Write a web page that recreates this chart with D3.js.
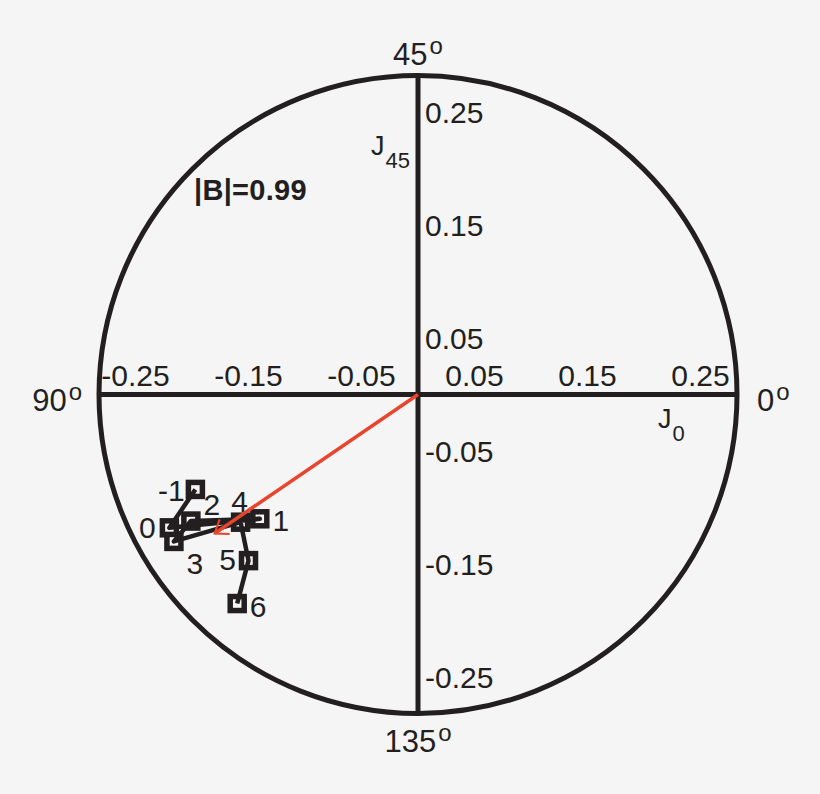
<!DOCTYPE html>
<html>
<head>
<meta charset="utf-8">
<script src="https://cdn.jsdelivr.net/npm/d3@7"></script>
<style>
  html, body { margin: 0; padding: 0; background: #f5f5f5; }
  svg text { font-family: Arial, "Liberation Sans", Helvetica, sans-serif; fill: #231f20; }
</style>
</head>
<body>
<svg id="chart"></svg>
<script>
// polar plot of J0 / J45 components
const pointLabels = ["-1", "0", "1", "2", "3", "4", "5", "6"];
const j0Values = [-0.197, -0.220, -0.140, -0.201, -0.216, -0.157, -0.150, -0.160];
const j45Values = [-0.084, -0.118, -0.110, -0.112, -0.130, -0.113, -0.147, -0.185];
const meanVector = [-0.180, -0.123];
const tickValues = [-0.25, -0.15, -0.05, 0.05, 0.15, 0.25];
const angleLabels = ["0", "45", "90", "135"];
const circleRadius = 0.2823;
const magnitudeText = "|B|=0.99";

const width = 820;
const height = 794;
const center = { x: 418, y: 394.5 };
const radiusPx = 319;
const ink = '#231f20';

const svg = d3.select('svg#chart').attr('width', width).attr('height', height);

var xScale = d3.scaleLinear()
  .domain([-circleRadius, circleRadius])
  .range([center.x - radiusPx, center.x + radiusPx]);
var yScale = d3.scaleLinear()
  .domain([-circleRadius, circleRadius])
  .range([center.y + radiusPx, center.y - radiusPx]);

// outer circle
svg.append('circle')
  .attr('cx', xScale(0))
  .attr('cy', yScale(0))
  .attr('r', xScale(circleRadius) - xScale(0))
  .attr('fill', 'none')
  .attr('stroke', ink)
  .attr('stroke-width', 5);

// the two axes through the full diameter
svg.append('line')
  .attr('x1', xScale(-circleRadius)).attr('x2', xScale(circleRadius))
  .attr('y1', yScale(0)).attr('y2', yScale(0))
  .attr('stroke', ink).attr('stroke-width', 5);
svg.append('line')
  .attr('x1', xScale(0)).attr('x2', xScale(0))
  .attr('y1', yScale(circleRadius)).attr('y2', yScale(-circleRadius))
  .attr('stroke', ink).attr('stroke-width', 5);

// tick labels, no tick marks in the original
svg.append('g').selectAll('text').data(tickValues)
  .enter().append('text')
  .attr('x', d => xScale(d))
  .attr('y', yScale(0) - 9)
  .attr('text-anchor', 'middle')
  .style('font-size', '30px')
  .text(d => d.toFixed(2));

svg.append('g').selectAll('text').data(tickValues)
  .enter().append('text')
  .attr('x', xScale(0) + 7)
  .attr('y', d => yScale(d))
  .attr('dy', '0.36em')
  .style('font-size', '30px')
  .text(d => d.toFixed(2));

// angle labels round the circle
var anglePos = {
  "0":   { x: center.x + radiusPx + 20, y: center.y + 16, anchor: 'start' },
  "45":  { x: center.x, y: center.y - radiusPx - 11, anchor: 'middle' },
  "90":  { x: center.x - radiusPx - 17, y: center.y + 16, anchor: 'end' },
  "135": { x: center.x, y: center.y + radiusPx + 38, anchor: 'middle' }
};
var angleText = svg.append('g').selectAll('text').data(angleLabels)
  .enter().append('text')
  .attr('x', d => anglePos[d].x)
  .attr('y', d => anglePos[d].y)
  .attr('text-anchor', d => anglePos[d].anchor)
  .style('font-size', '31px');
angleText.append('tspan').text(d => d);
angleText.append('tspan')
  .attr('dy', -11)
  .attr('dx', 2)
  .style('font-size', '24px')
  .text('o');

// axis names J0 and J45
function axisName(x, y, sub) {
  var t = svg.append('text').attr('x', x).attr('y', y).style('font-size', '27px');
  t.append('tspan').text('J');
  t.append('tspan').attr('dy', 13).attr('dx', 1).style('font-size', '22px').text(sub);
}
axisName(371, 155, '45');
axisName(658, 428, '0');

svg.append('text')
  .attr('x', 194)
  .attr('y', 200)
  .style('font-size', '29px')
  .style('font-weight', 'bold')
  .style('letter-spacing', '0.3px')
  .text(magnitudeText);

// data points
var points = pointLabels.map((label, i) => ({ label: label, j0: j0Values[i], j45: j45Values[i] }));

svg.append('g').selectAll('rect').data(points)
  .enter().append('rect')
  .attr('x', d => xScale(d.j0) - 7)
  .attr('y', d => yScale(d.j45) - 7)
  .attr('width', 14)
  .attr('height', 14)
  .attr('fill', '#f5f5f5')
  .attr('stroke', ink)
  .attr('stroke-width', 5.5);

var line = d3.line()
  .x(d => xScale(d.j0))
  .y(d => yScale(d.j45));
svg.append('path')
  .datum(points)
  .attr('d', line)
  .attr('fill', 'none')
  .attr('stroke', ink)
  .attr('stroke-width', 4.5)
  .attr('stroke-linejoin', 'round');

// where each number sits relative to its square
var labelOffset = {
  "-1": [-24, 1], "0": [-22, -1], "1": [21, 1], "2": [21, -17],
  "3": [21, 22], "4": [-1, -21], "5": [-21, -1], "6": [21, 3]
};
svg.append('g').selectAll('text').data(points)
  .enter().append('text')
  .attr('x', d => xScale(d.j0) + labelOffset[d.label][0])
  .attr('y', d => yScale(d.j45) + labelOffset[d.label][1])
  .attr('dy', '0.36em')
  .attr('text-anchor', 'middle')
  .style('font-size', '30px')
  .text(d => d.label);

// red mean vector with an open arrow head
var tipX = xScale(meanVector[0]);
var tipY = yScale(meanVector[1]);
var back = Math.atan2(yScale(0) - tipY, xScale(0) - tipX);
var wing = 15, spread = 36 * Math.PI / 180;
svg.append('line')
  .attr('x1', xScale(0)).attr('y1', yScale(0))
  .attr('x2', tipX).attr('y2', tipY)
  .attr('stroke', '#e8452c')
  .attr('stroke-width', 3.5);
svg.append('path')
  .attr('d', 'M' + (tipX + wing * Math.cos(back - spread)) + ',' + (tipY + wing * Math.sin(back - spread)) +
    'L' + tipX + ',' + tipY +
    'L' + (tipX + wing * Math.cos(back + spread)) + ',' + (tipY + wing * Math.sin(back + spread)))
  .attr('fill', 'none')
  .attr('stroke', '#e8452c')
  .attr('stroke-width', 2);
</script>
</body>
</html>
